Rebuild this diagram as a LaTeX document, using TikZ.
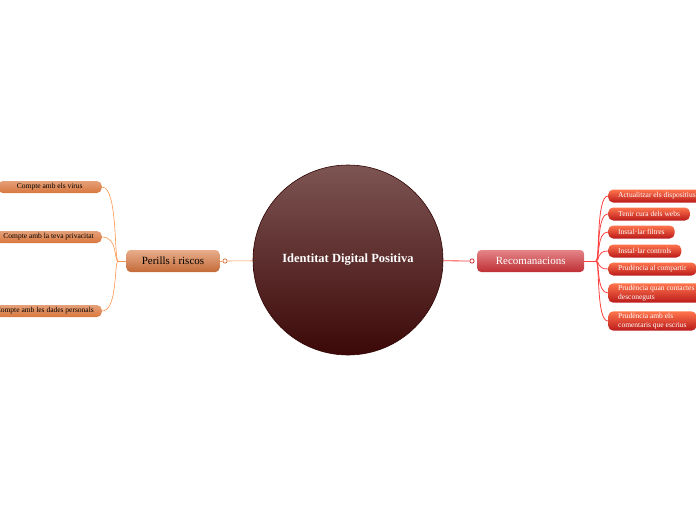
\documentclass[tikz,border=0pt]{standalone}
\usepackage{fontspec}
\setmainfont{Liberation Serif}
\begin{document}
\begin{tikzpicture}[x=1pt,y=-1pt,
  lchild/.style={draw=none,rounded corners=5pt,top color=#1!70!white,bottom color=#1,font=\fontsize{7.5}{8}\selectfont,anchor=east,minimum height=12pt,inner xsep=8pt,inner ysep=1pt,minimum width=104pt},
  rchild/.style={rounded corners=5pt,top color=red!55!orange!70!white,bottom color=red!70!black!90,text=white,font=\fontsize{7.5}{8.5}\selectfont,anchor=west,minimum height=13pt,inner xsep=10pt,inner ysep=2pt,align=left},
  mainbox/.style={rounded corners=4pt,minimum height=22pt,font=\fontsize{11}{13}\selectfont,inner xsep=6pt},
  oline/.style={draw=orange!80!red!70,line width=0.6pt},
  rline/.style={draw=red!75!white,line width=0.8pt}]
\useasboundingbox (0,0) rectangle (696,520);
\definecolor{or}{HTML}{D9773E}
\definecolor{rd}{HTML}{D3343A}
\node[circle,minimum size=190pt,draw={rgb,255:red,50;green,5;blue,5},line width=0.6pt,top color={rgb,255:red,125;green,85;blue,83},bottom color={rgb,255:red,60;green,8;blue,8},text=white,font=\bfseries\fontsize{12.5}{14}\selectfont] (c) at (348,260) {Identitat Digital Positiva};
\node[mainbox,top color=or!60!white,bottom color=or!90!black,text=black,minimum width=93pt] (l) at (173,261) {Perills i riscos};
\node[circle,draw=or,line width=0.8pt,inner sep=1.5pt] (lm) at (225,261) {};
\draw[oline] (lm) -- (c);
\draw[oline] (l.east) -- (lm);
\node[lchild=or] (l1) at (102,187) {Compte amb els virus};
\node[lchild=or] (l2) at (102,237) {Compte amb la teva privacitat};
\node[lchild=or] (l3) at (102,311) {Compte amb les dades personals};
\coordinate (lb) at (118,261);
\draw[oline] (l.west) -- (lb);
\foreach \n in {l1,l2,l3}{\draw[oline] (lb) .. controls (114,261) and (118,0|-\n.east) .. (\n.east);}
\node[mainbox,top color=rd!60!white,bottom color=rd!90!black,text=white,minimum width=107pt,anchor=west] (r) at (477,261) {Recomanacions};
\node[circle,draw=rd,line width=0.8pt,inner sep=1.5pt] (rm) at (472,261) {};
\draw[rline] (c) -- (rm);
\node[rchild] (r1) at (608,196) {Actualitzar els dispositius};
\node[rchild] (r2) at (608,214) {Tenir cura dels webs};
\node[rchild] (r3) at (608,232) {Instal·lar filtres};
\node[rchild] (r4) at (608,251) {Instal·lar controls};
\node[rchild] (r5) at (608,269) {Prudència al compartir};
\node[rchild] (r6) at (608,293) {Prudència quan contactes\\desconeguts};
\node[rchild] (r7) at (608,321) {Prudència amb els\\comentaris que escrius};
\coordinate (rb) at (596,261);
\draw[rline] (r.east) -- (rb);
\foreach \n in {r1,r2,r3,r4,r5,r6,r7}{\draw[rline] (rb) .. controls (600,261) and (596,0|-\n.west) .. (\n.west);}
\end{tikzpicture}
\end{document}
